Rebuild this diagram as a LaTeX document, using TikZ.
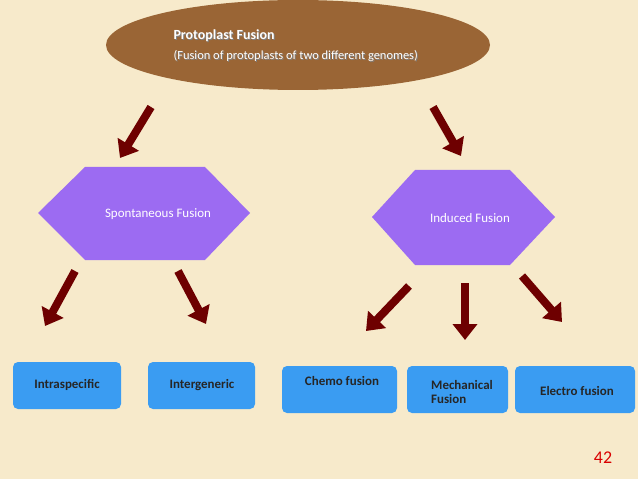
\documentclass[tikz,border=0pt]{standalone}
\usepackage{fontspec}
\setmainfont{Carlito}
\usetikzlibrary{arrows.meta,shapes.geometric}
\definecolor{bg}{HTML}{F7EACB}
\definecolor{brownf}{HTML}{9A6535}
\definecolor{purp}{HTML}{9C6BF2}
\definecolor{blu}{HTML}{3A9CF2}
\definecolor{arr}{HTML}{6E0000}
\begin{document}
\begin{tikzpicture}[x=1bp,y=-1bp,
  blk/.style={draw=arr,line width=8bp,-{Triangle[width=24bp,length=16bp]},arr,fill=arr},
  box/.style={fill=blu,rounded corners=5bp,draw=none},
  btxt/.style={font=\fontsize{13}{15}\selectfont\bfseries,text=black!85,align=left},
  hex/.style={fill=purp,draw=none}]
\fill[bg] (0,0) rectangle (638,479);
\useasboundingbox (0,0) rectangle (638,479);
% ellipse
\fill[brownf] (298,45) ellipse [x radius=192,y radius=45];
\node[anchor=west,text=black!50,font=\fontsize{14}{16}\selectfont\bfseries] at (171,37) {Protoplast Fusion};
\node[anchor=west,text=black!50,font=\fontsize{12.5}{15}\selectfont] at (171,57) {(Fusion of protoplasts of two different genomes)};
\node (pf) [anchor=west,text=white,font=\fontsize{14}{16}\selectfont\bfseries] at (170,36) {Protoplast Fusion};
\node (pfs) [anchor=west,text=white,font=\fontsize{12.5}{15}\selectfont] at (170,56) {(Fusion of protoplasts of two different genomes)};
% hexagons
\fill[hex] (38,213) -- (85,167) -- (205,167) -- (250,213) -- (205,260) -- (85,260) -- cycle;
\fill[hex] (372,217) -- (415,170) -- (510,170) -- (555,217) -- (510,265) -- (415,265) -- cycle;
\node (sf) [text=white,font=\fontsize{13}{15}\selectfont] at (158,214) {Spontaneous Fusion};
\node (if) [text=white,font=\fontsize{13}{15}\selectfont] at (470,218) {Induced Fusion};
% boxes
\fill[box] (13,362) rectangle (121,409);
\fill[box] (148,362) rectangle (255,409);
\fill[box] (282,366) rectangle (397,413);
\fill[box] (407,366) rectangle (508,413);
\fill[box] (515,366) rectangle (635,413);
\node (b1) [btxt] at (67,385) {Intraspecific};
\node (b2) [btxt] at (202,385) {Intergeneric};
\node (b3) [btxt] at (342,381) {Chemo fusion};
\node (b4) [btxt] at (462,392) {Mechanical\\Fusion};
\node (b5) [btxt] at (577,391) {Electro fusion};
\node (n42) [text=red!85!black,font=\fontsize{18}{20}\selectfont] at (603,458) {42};
% arrows
\coordinate (a1s) at (151,107); \coordinate (a1e) at (120,158);
\coordinate (a2s) at (433,107); \coordinate (a2e) at (461,156);
\coordinate (a3s) at (75,271); \coordinate (a3e) at (45,326);
\coordinate (a4s) at (178,271); \coordinate (a4e) at (206,324);
\coordinate (a5s) at (409,286); \coordinate (a5e) at (366,331);
\coordinate (a6s) at (465,283); \coordinate (a6e) at (465,340);
\coordinate (a7s) at (522,276); \coordinate (a7e) at (562,322);
\foreach \i in {1,...,7} \draw[blk] (a\i s) -- (a\i e);
\end{tikzpicture}
\end{document}
